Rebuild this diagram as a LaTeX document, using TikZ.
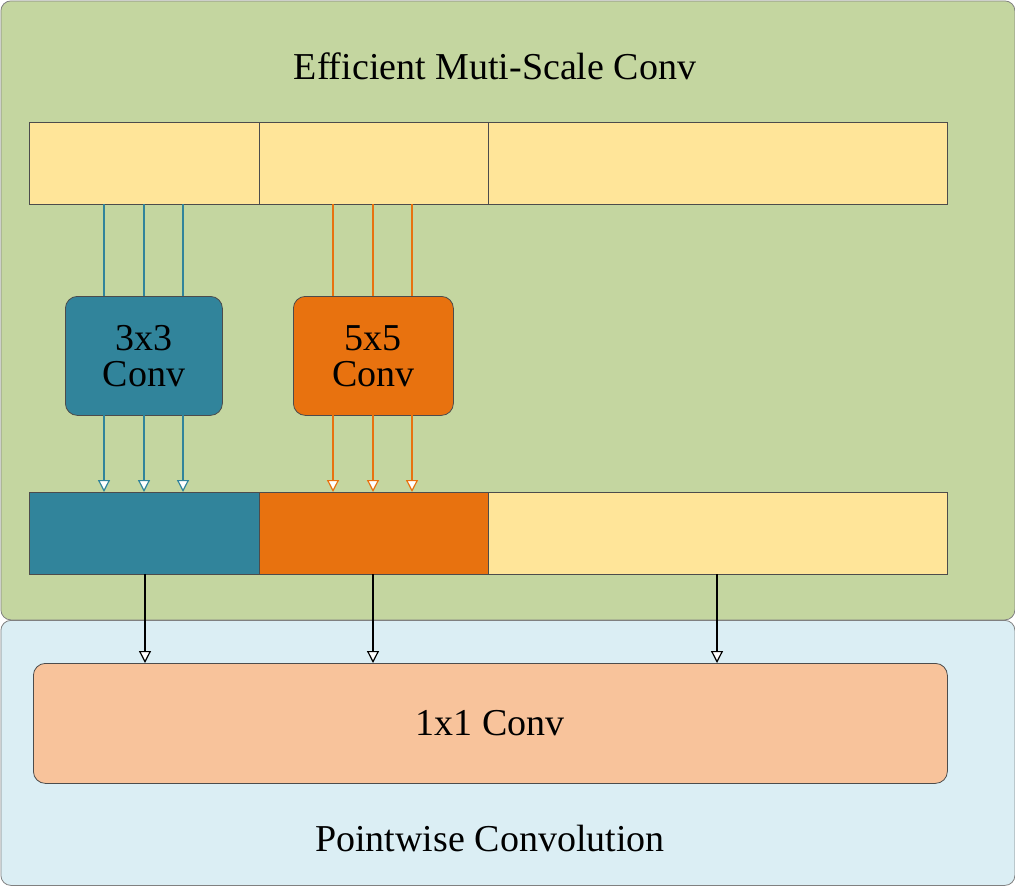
\documentclass[tikz,border=0pt]{standalone}
\usepackage{fontspec}
\setmainfont{Liberation Serif}
\usetikzlibrary{arrows.meta}
\definecolor{gbg}{HTML}{C4D6A0}
\definecolor{bbg}{HTML}{DBEEF4}
\definecolor{yel}{HTML}{FFE599}
\definecolor{teal}{HTML}{31849B}
\definecolor{org}{HTML}{E8720F}
\definecolor{pch}{HTML}{F8C39B}
\begin{document}
\begin{tikzpicture}[x=1pt,y=-1pt,
  cell/.style={draw=black!70,line width=0.8pt,inner sep=0pt,anchor=north west},
  lbl/.style={font=\fontsize{38}{40}\selectfont},
  tarr/.style={draw=teal,line width=1.2pt,-{Triangle[open,fill=white,length=12pt,width=12pt]}},
  oarr/.style={draw=org,line width=1.2pt,-{Triangle[open,fill=white,length=12pt,width=12pt]}},
  barr/.style={draw=black,line width=1.2pt,-{Triangle[open,fill=white,length=12pt,width=12pt]}}]
\useasboundingbox (0,0) rectangle (1015,886);
\node[cell,fill=gbg,draw=gray,rounded corners=10pt,minimum width=1014pt,minimum height=619pt] (green) at (0.5,0.5) {};
\node[cell,fill=bbg,draw=gray,rounded corners=10pt,minimum width=1014pt,minimum height=265pt] (blue) at (0.5,620) {};
\node[lbl] (title) at (495,66) {Efficient Muti-Scale Conv};
\node[lbl] (pw) at (490,838) {Pointwise Convolution};
% top bar
\node[cell,fill=yel,minimum width=230pt,minimum height=82pt] (t1) at (29,122) {};
\node[cell,fill=yel,minimum width=229pt,minimum height=82pt] (t2) at (259,122) {};
\node[cell,fill=yel,minimum width=459pt,minimum height=82pt] (t3) at (488,122) {};
% bottom bar
\node[cell,fill=teal,minimum width=230pt,minimum height=82pt] (b1) at (29,492) {};
\node[cell,fill=org,minimum width=229pt,minimum height=82pt] (b2) at (259,492) {};
\node[cell,fill=yel,minimum width=459pt,minimum height=82pt] (b3) at (488,492) {};
% conv boxes
\node[cell,fill=teal,rounded corners=12pt,minimum width=157pt,minimum height=119pt] (c3) at (65,296) {};
\node[lbl,align=center] at (c3.center) {3x3\\[-4pt]Conv};
\node[cell,fill=org,rounded corners=12pt,minimum width=160pt,minimum height=119pt] (c5) at (293,296) {};
\node[lbl,align=center] at (c5.center) {5x5\\[-4pt]Conv};
\node[cell,fill=pch,rounded corners=12pt,minimum width=914pt,minimum height=120pt] (c1) at (33,663) {};
\node[lbl] at (c1.center) {1x1 Conv};
% connectors
\foreach \x in {104,144,183}{
  \draw[teal,line width=1.2pt] (\x,204) -- (\x,296);
  \draw[tarr] (\x,415) -- (\x,492);}
\foreach \x in {333,373,412}{
  \draw[org,line width=1.2pt] (\x,204) -- (\x,296);
  \draw[oarr] (\x,415) -- (\x,492);}
\foreach \x in {145,373,717}{
  \draw[barr] (\x,574) -- (\x,663);}
\end{tikzpicture}
\end{document}
